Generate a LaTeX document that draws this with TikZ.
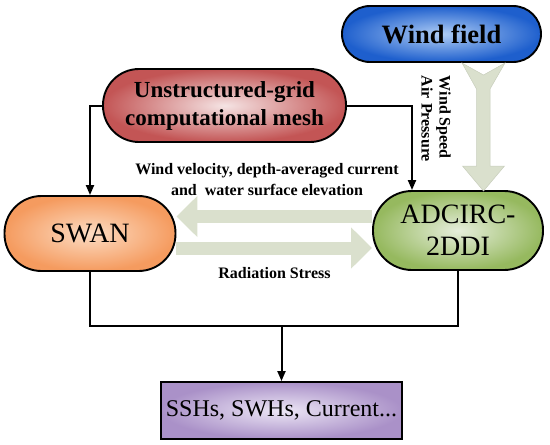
\documentclass[tikz,border=0pt]{standalone}
\usepackage{fontspec}
\setmainfont{Liberation Serif}
\usetikzlibrary{arrows.meta}

\pgfdeclarelayer{background}
\pgfsetlayers{background,main}

\definecolor{windout}{RGB}{30,95,205}
\definecolor{windin}{RGB}{175,205,245}
\definecolor{meshout}{RGB}{195,85,85}
\definecolor{meshin}{RGB}{245,228,228}
\definecolor{swanout}{RGB}{245,155,95}
\definecolor{swanin}{RGB}{252,220,195}
\definecolor{adcout}{RGB}{150,185,95}
\definecolor{adcin}{RGB}{230,238,220}
\definecolor{resout}{RGB}{170,145,200}
\definecolor{resin}{RGB}{236,230,245}
\definecolor{sage}{RGB}{218,224,205}
\definecolor{sageline}{RGB}{200,206,188}

\tikzstyle{model} = [draw, line width=1.9pt, inner sep=0pt, align=center]
\tikzstyle{flow} = [line width=2pt, -{Triangle[length=10pt,width=8pt]}]
\tikzstyle{plain} = [line width=2pt]
\tikzstyle{bigarrow} = [line width=13pt, draw=sage, -{Triangle[length=21pt,width=40pt]}]
\tikzstyle{label} = [font=\bfseries\fontsize{16}{21}\selectfont, align=center]

\begin{document}
\begin{tikzpicture}[x=1pt, y=-1pt]
        \useasboundingbox (0,0) rectangle (550,445);

        % Boxes
        \node (wind) at (441.5, 34) [model, minimum width=199pt, minimum height=56pt, rounded corners=28pt,
          inner color=windin, outer color=windout, font=\bfseries\fontsize{26.5}{30}\selectfont] {Wind field};
        \node (mesh) at (224.5, 105.5) [model, minimum width=243pt, minimum height=73pt, rounded corners=36pt,
          inner color=meshin, outer color=meshout, font=\bfseries\fontsize{23}{28}\selectfont]
          {Unstructured-grid\\computational mesh};
        \node (swan) at (90, 233.5) [model, minimum width=171pt, minimum height=75pt, rounded corners=37pt,
          inner color=swanin, outer color=swanout, font=\fontsize{28}{32}\selectfont] {SWAN};
        \node (adcirc) at (458, 230.5) [model, minimum width=170pt, minimum height=79pt, rounded corners=39pt,
          inner color=adcin, outer color=adcout, font=\fontsize{28}{32}\selectfont] {ADCIRC-\\2DDI};
        \node (result) at (281.5, 410.5) [model, minimum width=241pt, minimum height=57pt,
          inner color=resin, outer color=resout, font=\fontsize{24}{28}\selectfont] {SSHs, SWHs, Current...};

        % Coupling arrows
        \begin{pgfonlayer}{background}
          \draw[bigarrow] (adcirc.west |- 0,216.5) -- (swan.east |- 0,216.5);
          \draw[bigarrow] (swan.east |- 0,248) -- (adcirc.west |- 0,248);
        \end{pgfonlayer}

        % Wind forcing
        \coordinate (wtail) at (483.5, 63);
        \coordinate (whead) at (483.5, 191);
        \filldraw[fill=sage, draw=sageline, line width=0.5pt]
          (wtail) ++(-21.5,0) -- ++(21.5,12) -- ++(21.5,-12) -- ++(-15,26) -- ++(0,77) -- ++(14.5,0)
          -- (whead) -- ++(-21,-25) -- ++(14,0) -- ++(0,-77) -- cycle;
        \node (forcing) at (436, 119) [rotate=-90, align=left, font=\bfseries\fontsize{16}{18}\selectfont]
          {Wind Speed\\Air Pressure};

        % Labels
        \node (exchange) at (267, 179.5) [label] {Wind velocity, depth-averaged current\\and\ \ water surface elevation};
        \node (stress) at (274.5, 273) [label] {Radiation Stress};

        % Mesh to models
        \draw[flow] (mesh.west) -| (swan.north);
        \draw[flow] (mesh.east) -| ([xshift=-46pt]adcirc.north);

        % Output
        \coordinate (merge) at (281.5, 326);
        \draw[plain] (swan.south) |- (merge) -| (adcirc.south);
        \draw[flow] (merge) -- (result.north);
      \end{tikzpicture}
\end{document}
